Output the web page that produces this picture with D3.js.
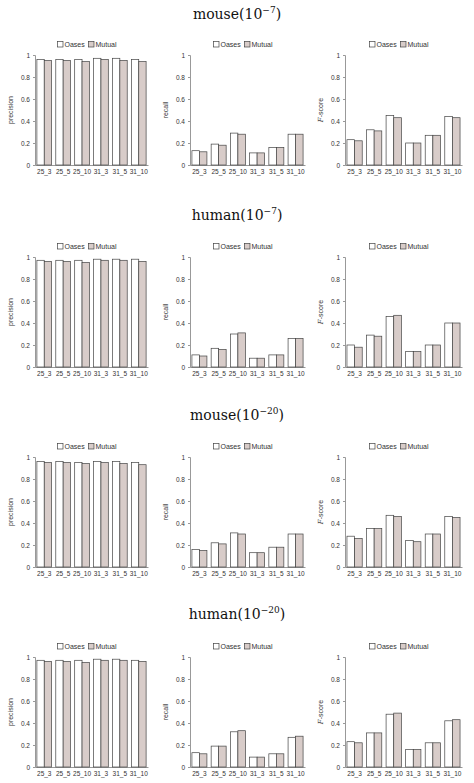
<!DOCTYPE html>
<html><head><meta charset="utf-8">
<script src="https://cdn.jsdelivr.net/npm/d3@7"></script>
<style>body{margin:0;background:#fff}</style></head>
<body><svg id="c" width="474" height="783"></svg>
<script>
const categories=["25_3","25_5","25_10","31_3","31_5","31_10"];
const series=["Oases","Mutual"];
const yTicks=[0,0.2,0.4,0.6,0.8,1];
const datasets=[{name:"mouse",exp:"−7"},{name:"human",exp:"−7"},{name:"mouse",exp:"−20"},{name:"human",exp:"−20"}];
const metrics=["precision","recall","F-score"];
// [dataset][metric] -> [oases[], mutual[]]
const mouse7_precision_oases=[0.96,0.96,0.96,0.97,0.97,0.96], mouse7_precision_mutual=[0.95,0.95,0.94,0.96,0.95,0.94];
const mouse7_recall_oases=[0.13,0.19,0.29,0.11,0.16,0.28], mouse7_recall_mutual=[0.12,0.18,0.28,0.11,0.16,0.28];
const mouse7_f_oases=[0.23,0.32,0.45,0.20,0.27,0.44], mouse7_f_mutual=[0.22,0.31,0.43,0.20,0.27,0.43];
const human7_precision_oases=[0.97,0.97,0.97,0.98,0.98,0.98], human7_precision_mutual=[0.96,0.96,0.95,0.97,0.97,0.96];
const human7_recall_oases=[0.11,0.17,0.30,0.08,0.11,0.26], human7_recall_mutual=[0.10,0.16,0.31,0.08,0.11,0.26];
const human7_f_oases=[0.20,0.29,0.46,0.14,0.20,0.40], human7_f_mutual=[0.18,0.28,0.47,0.14,0.20,0.40];
const mouse20_precision_oases=[0.96,0.96,0.95,0.96,0.96,0.95], mouse20_precision_mutual=[0.95,0.95,0.94,0.95,0.94,0.93];
const mouse20_recall_oases=[0.16,0.22,0.31,0.13,0.18,0.30], mouse20_recall_mutual=[0.15,0.21,0.30,0.13,0.18,0.30];
const mouse20_f_oases=[0.28,0.35,0.47,0.24,0.30,0.46], mouse20_f_mutual=[0.26,0.35,0.46,0.23,0.30,0.45];
const human20_precision_oases=[0.97,0.97,0.97,0.98,0.98,0.97], human20_precision_mutual=[0.96,0.96,0.95,0.97,0.97,0.96];
const human20_recall_oases=[0.13,0.19,0.32,0.09,0.12,0.27], human20_recall_mutual=[0.12,0.19,0.33,0.09,0.12,0.28];
const human20_f_oases=[0.23,0.31,0.48,0.16,0.22,0.42], human20_f_mutual=[0.22,0.31,0.49,0.16,0.22,0.43];
const table=[
 [[mouse7_precision_oases,mouse7_precision_mutual],[mouse7_recall_oases,mouse7_recall_mutual],[mouse7_f_oases,mouse7_f_mutual]],
 [[human7_precision_oases,human7_precision_mutual],[human7_recall_oases,human7_recall_mutual],[human7_f_oases,human7_f_mutual]],
 [[mouse20_precision_oases,mouse20_precision_mutual],[mouse20_recall_oases,mouse20_recall_mutual],[mouse20_f_oases,mouse20_f_mutual]],
 [[human20_precision_oases,human20_precision_mutual],[human20_recall_oases,human20_recall_mutual],[human20_f_oases,human20_f_mutual]]];

const svg=d3.select("#c");
const rowTop=[55,257,457,657], titleY=[19,220,420,619];
const panelX=[[35,148],[190,305],[345,462]];
const H=110;
const colors=["#ffffff","#d8ccc9"];
datasets.forEach((ds,r)=>{
  const t=svg.append("text").attr("x",237).attr("y",titleY[r]).attr("text-anchor","middle")
    .attr("font-family","DejaVu Serif, Liberation Serif, serif").attr("font-size",14).attr("fill","#111");
  t.append("tspan").text(ds.name+"(10");
  t.append("tspan").attr("font-size",9).attr("dy",-6).text(ds.exp);
  t.append("tspan").attr("dy",6).text(")");
  metrics.forEach((m,c)=>{
    const [x0,x1]=panelX[c];
    const g=svg.append("g").attr("transform",`translate(0,${rowTop[r]})`);
    const x=d3.scaleBand().domain(categories).range([x0,x1]).paddingInner(0.22).paddingOuter(0.1);
    const xs=d3.scaleBand().domain(series).range([0,x.bandwidth()]);
    const y=d3.scaleLinear().domain([0,1]).range([H,0]);
    const ya=g.append("g").attr("transform",`translate(${x0},0)`).call(d3.axisLeft(y).tickValues(yTicks).tickSize(2).tickFormat(d=>d===0||d===1?d:d3.format(".1f")(d)));
    const xa=g.append("g").attr("transform",`translate(0,${H})`).call(d3.axisBottom(x).tickSize(0).tickPadding(4));
    [ya,xa].forEach(a=>{a.selectAll("path,line").attr("stroke","#999");a.selectAll("text").attr("font-family","Liberation Sans, Arial, sans-serif").attr("font-size",6.5).attr("fill","#333");});
    series.forEach((s,si)=>{
      g.selectAll(null).data(table[r][c][si]).enter().append("rect")
       .attr("x",(d,i)=>x(categories[i])+xs(s)).attr("width",xs.bandwidth())
       .attr("y",d=>y(d)).attr("height",d=>H-y(d))
       .attr("fill",colors[si]).attr("stroke","#444").attr("stroke-width",0.7);
    });
    const lab=g.append("text").attr("transform",`translate(${x0-22},${H/2}) rotate(-90)`).attr("text-anchor","middle")
      .attr("font-family","Liberation Sans, Arial, sans-serif").attr("font-size",7).attr("fill","#333");
    if(m==="F-score"){lab.append("tspan").attr("font-style","italic").attr("font-family","DejaVu Serif, serif").text("F");lab.append("tspan").text("-score");}
    else lab.text(m);
    const cx=(x0+x1)/2;
    const lg=g.append("g").attr("transform",`translate(${cx-34},-10)`);
    let off=0;
    series.forEach((s,si)=>{
      lg.append("rect").attr("x",off).attr("y",-3.5).attr("width",5.5).attr("height",5.5).attr("fill",colors[si]).attr("stroke","#444").attr("stroke-width",0.7);
      lg.append("text").attr("x",off+7).attr("y",2).attr("font-family","Liberation Sans, Arial, sans-serif").attr("font-size",7).attr("fill","#333").text(s);
      off+=31;
    });
  });
});
</script></body></html>
